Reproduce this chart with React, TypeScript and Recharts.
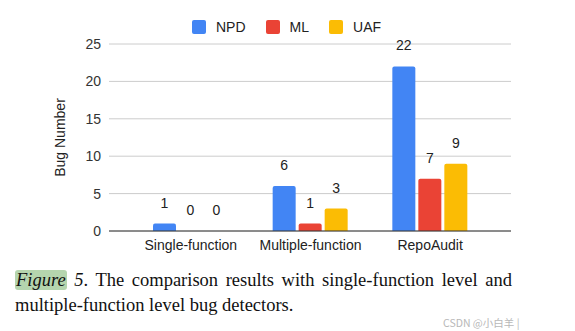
import React from "react";
import { BarChart, Bar, XAxis, YAxis, CartesianGrid, LabelList } from "recharts";

const categories = ["Single-function", "Multiple-function", "RepoAudit"];
const npdValues = [1, 6, 22];
const mlValues = [0, 1, 7];
const uafValues = [0, 3, 9];
const yTicks = [0, 5, 10, 15, 20, 25];

const series = [
  { key: "NPD", values: npdValues, color: "#4285F4" },
  { key: "ML", values: mlValues, color: "#EA4335" },
  { key: "UAF", values: uafValues, color: "#FBBC04" },
];

const data = categories.map((c, i) => {
  const row: Record<string, string | number> = { name: c };
  series.forEach((s) => {
    row[s.key] = s.values[i];
  });
  return row;
});

const FONT = "'Liberation Sans', Arial, sans-serif";

export default function App() {
  return (
    <div style={{ position: "absolute", left: 0, top: 0, width: 575, height: 331, background: "#fff" }}>
      <BarChart
        width={575}
        height={261}
        data={data}
        margin={{ top: 44, right: 64, bottom: 0, left: 0 }}
        barCategoryGap={22}
        barGap={3}
        style={{ fontFamily: FONT }}
      >
        <CartesianGrid vertical={false} stroke="#cccccc" />
        <XAxis
          dataKey="name"
          padding={{ left: 22, right: 21 }}
          tickLine={false}
          axisLine={{ stroke: "#333333" }}
          tick={{ fill: "#222222", fontSize: 14 }}
          tickMargin={3}
          height={30}
          interval={0}
        />
        <YAxis
          domain={[0, 25]}
          ticks={yTicks}
          width={109}
          axisLine={false}
          tickLine={false}
          tick={{ fill: "#333333", fontSize: 14 }}
          label={{
            value: "Bug Number",
            angle: -90,
            position: "insideLeft",
            offset: 60,
            style: { textAnchor: "middle", fill: "#222222", fontSize: 14 },
          }}
        />
        {series.map((s) => (
          <Bar
            key={s.key}
            dataKey={s.key}
            fill={s.color}
            barSize={23}
            minPointSize={0.01}
            radius={[2, 2, 0, 0]}
            isAnimationActive={false}
          >
            <LabelList
              dataKey={s.key}
              position="top"
              offset={16}
              style={{ fill: "#222222", fontSize: 14 }}
            />
          </Bar>
        ))}
      </BarChart>

      <div
        style={{
          position: "absolute",
          left: 192,
          top: 20,
          display: "flex",
          alignItems: "center",
          fontFamily: FONT,
          fontSize: 14,
          color: "#222",
          height: 14,
        }}
      >
        {series.map((s, i) => (
          <div key={s.key} style={{ display: "flex", alignItems: "center", marginLeft: i === 0 ? 0 : 20 }}>
            <div style={{ width: 14, height: 14, borderRadius: 2, background: s.color, marginRight: 10 }} />
            <span>{s.key}</span>
          </div>
        ))}
      </div>

      <div
        style={{
          position: "absolute",
          left: 15,
          top: 268,
          width: 497,
          fontFamily: "'Liberation Serif', 'Times New Roman', serif",
          fontSize: 18.5,
          lineHeight: "25px",
          color: "#111",
        }}
      >
        <div style={{ textAlign: "justify", textAlignLast: "justify" }}>
          <i>
            <span style={{ background: "#b5d5ae", borderRadius: 3, padding: "0 1px" }}>Figure</span> 5
          </i>
          . The comparison results with single-function level and
        </div>
        <div>multiple-function level bug detectors.</div>
      </div>

      <div
        style={{
          position: "absolute",
          left: 443,
          top: 315,
          fontFamily: "'Noto Sans CJK SC', 'Noto Sans', sans-serif",
          fontSize: 10.5,
          color: "#b8b8b8",
          whiteSpace: "nowrap",
        }}
      >
        CSDN @小白羊 |
      </div>
    </div>
  );
}
